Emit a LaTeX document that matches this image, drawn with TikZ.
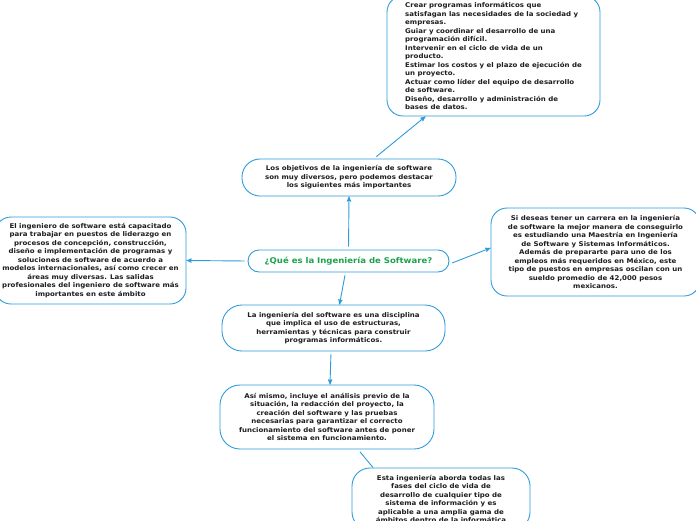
\documentclass[tikz,border=0pt]{standalone}
\usepackage{fontspec}
\setmainfont{DejaVu Sans}[FakeStretch=1.08]
\usepackage{tikz}
\usetikzlibrary{positioning, arrows}
\definecolor{mapblue}{HTML}{2E9BDB}
\definecolor{mapgreen}{HTML}{1AA34A}
\definecolor{maptext}{HTML}{1E1E1E}
\tikzset{
>=stealth', % small filled arrow heads
every node/.style={text=maptext, font=\bfseries\fontsize{6.5}{8.5}\selectfont},
idea/.style={draw=mapblue, line width=0.9pt, fill=white, align=center, inner sep=0pt}, % boxes of the map
link/.style={->, draw=mapblue, line width=0.9pt, shorten <=3pt}, % connectors
}

\begin{document}
\begin{tikzpicture}[x=1pt, y=-1pt]
    \useasboundingbox (0,0) rectangle (696,520);
    \clip (0,0) rectangle (696,520);
    \node[idea, rounded corners=11pt, minimum width=201pt, minimum height=22pt, text=mapgreen, font=\bfseries\fontsize{7.9}{9}\selectfont] (que) at (348.5,261) {¿Qué es la Ingeniería de Software?};
    \node[idea, rounded corners=18pt, minimum width=214pt, minimum height=37pt] (objetivos) at (349,177.5) {Los objetivos de la ingeniería de software\\son muy diversos, pero podemos destacar\\los siguientes más importantes};
    \node[idea, rounded corners=16pt, minimum width=213pt, minimum height=120pt, align=left] (tareas) at (493.5,56) {Crear programas informáticos que\\satisfagan las necesidades de la sociedad y\\empresas.\\Guiar y coordinar el desarrollo de una\\programación difícil.\\Intervenir en el ciclo de vida de un\\producto.\\Estimar los costos y el plazo de ejecución de\\un proyecto.\\Actuar como líder del equipo de desarrollo\\de software.\\Diseño, desarrollo y administración de\\bases de datos.};
    \node[idea, rounded corners=16pt, minimum width=191pt, minimum height=87pt] (ingeniero) at (90.5,260.5) {El ingeniero de software está capacitado\\para trabajar en puestos de liderazgo en\\procesos de concepción, construcción,\\diseño e implementación de programas y\\soluciones de software de acuerdo a\\modelos internacionales, así como crecer en\\áreas muy diversas. Las salidas\\profesionales del ingeniero de software más\\importantes en este ámbito};
    \node[idea, rounded corners=16pt, minimum width=209pt, minimum height=88pt] (maestria) at (595.5,252) {Si deseas tener un carrera en la ingeniería\\de software la mejor manera de conseguirlo\\es estudiando una Maestría en Ingeniería\\de Software y Sistemas Informáticos.\\Además de prepararte para uno de los\\empleos más requeridos en México, este\\tipo de puestos en empresas oscilan con un\\sueldo promedio de 42,000 pesos\\mexicanos.};
    \node[idea, rounded corners=20pt, minimum width=223pt, minimum height=46pt] (disciplina) at (333.5,328) {La ingeniería del software es una disciplina\\que implica el uso de estructuras,\\herramientas y técnicas para construir\\programas informáticos.};
    \node[idea, rounded corners=20pt, minimum width=214pt, minimum height=64pt] (analisis) at (327,417) {Así mismo, incluye el análisis previo de la\\situación, la redacción del proyecto, la\\creación del software y las pruebas\\necesarias para garantizar el correcto\\funcionamiento del software antes de poner\\el sistema en funcionamiento.};
    \node[idea, rounded corners=18pt, minimum width=178pt, minimum height=62pt] (fases) at (441,499) {Esta ingeniería aborda todas las\\fases del ciclo de vida de\\desarrollo de cualquier tipo de\\sistema de información y es\\aplicable a una amplia gama de\\ámbitos dentro de la informática};
    % connectors
    \draw[link] (que.north) -- (objetivos.south);
    \draw[link] ([xshift=25pt]objetivos.north) -- ([xshift=-68pt]tareas.south);
    \draw[link] (que.west) -- (ingeniero.east);
    \draw[link] ([yshift=-3pt]que.east) -- ([yshift=4pt]maestria.west);
    \draw[link] ([xshift=-3pt]que.south) -- ([xshift=6pt]disciplina.north);
    \draw[link] ([xshift=-2.5pt]disciplina.south) -- ([xshift=3pt]analisis.north);
    \draw[link, -] ([xshift=31pt]analisis.south) -- ([xshift=-68pt]fases.north);
\end{tikzpicture}
\end{document}
